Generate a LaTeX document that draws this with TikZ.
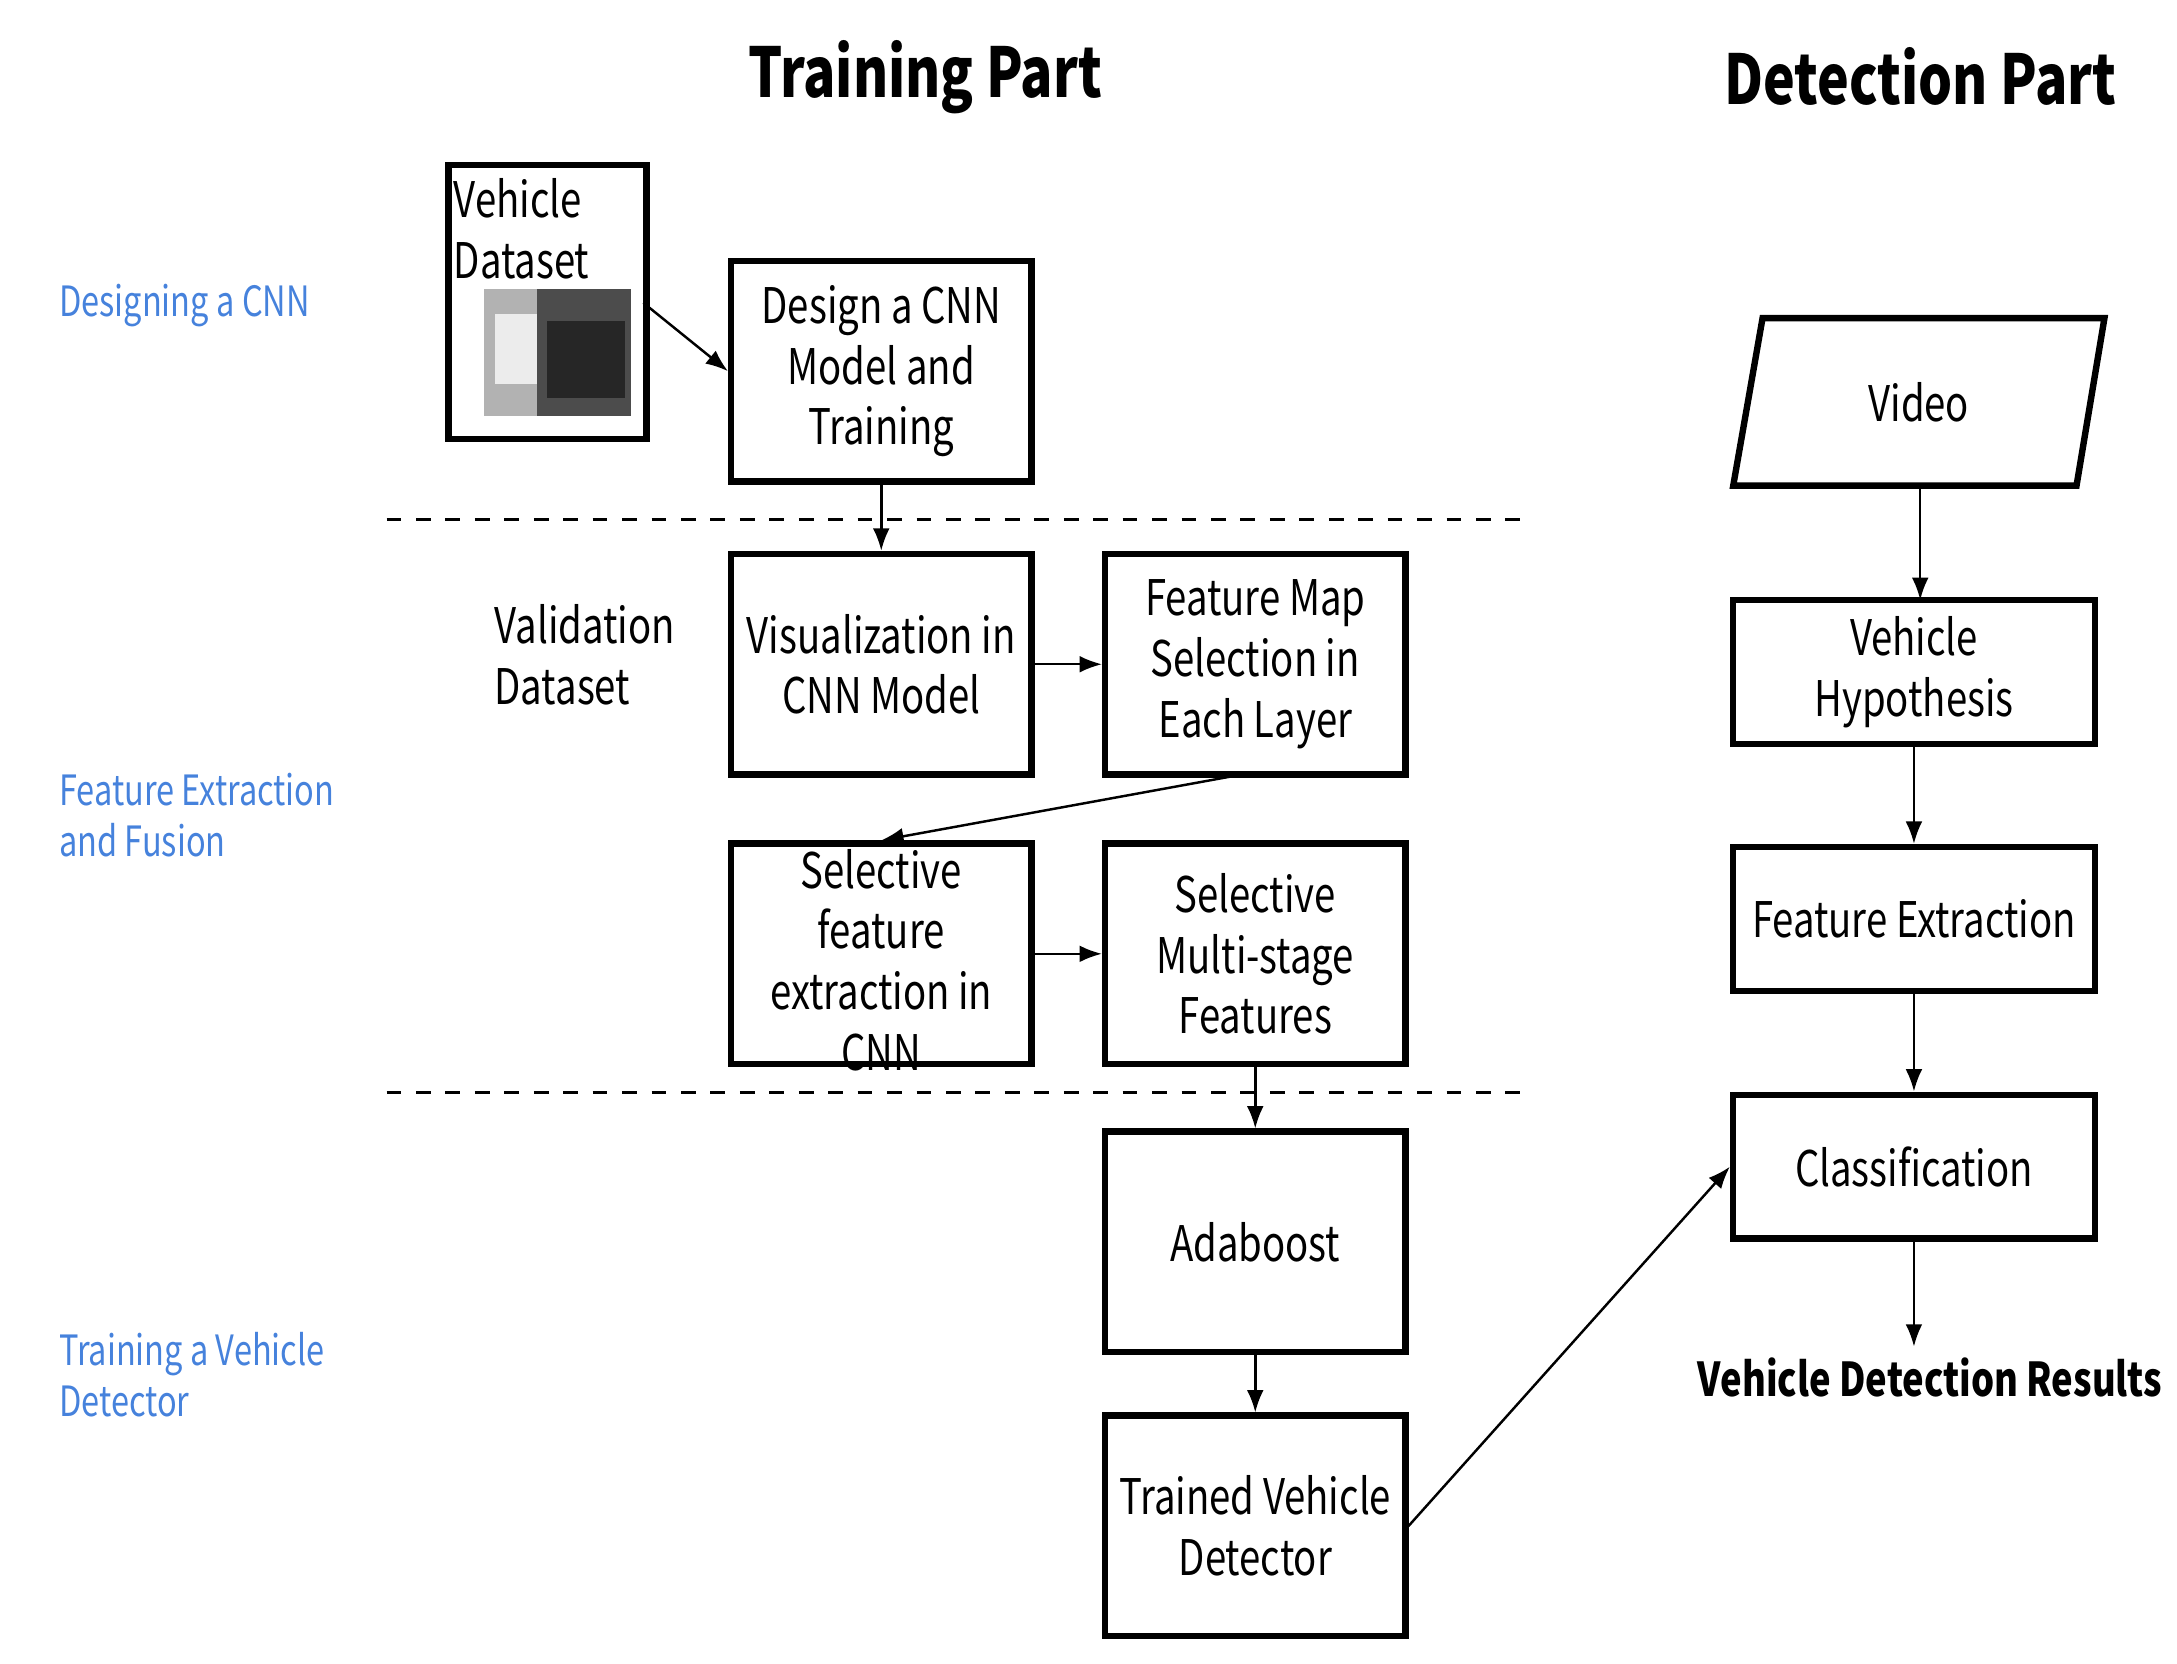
\documentclass[tikz,border=0pt]{standalone}
\usepackage{fontspec}
\setmainfont{Noto Sans CJK KR}[FakeStretch=0.78]
\usetikzlibrary{arrows.meta}
\definecolor{lblue}{RGB}{70,130,220}
\begin{document}
\begin{tikzpicture}[x=0.01cm,y=-0.01cm,
  box/.style={draw,line width=1.3pt,inner sep=0pt,align=center,font=\fontsize{10}{12.4}\selectfont},
  tb/.style={box,minimum width=2.15cm,minimum height=1.58cm},
  db/.style={box,minimum width=2.59cm,minimum height=1.03cm},
  arr/.style={-{Latex[length=1.6mm,width=1.2mm]},line width=0.5pt},
  side/.style={text=lblue,align=left,anchor=west,font=\fontsize{8.5}{10.5}\selectfont},
  ttl/.style={font=\fontsize{14}{17}\selectfont\bfseries}]
\useasboundingbox (0,0) rectangle (1560,1192);
% titles
\node[ttl] (t1) at (663,55) {Training Part};
\node[ttl] (t2) at (1376,55) {Detection Part};
% side labels
\node[side] (l1) at (30,219) {Designing a CNN};
\node[side] (l2) at (30,584) {Feature Extraction\\and Fusion};
\node[side] (l3) at (30,985) {Training a Vehicle\\Detector};
\node[align=left,anchor=west,font=\fontsize{10}{12.4}\selectfont] (val) at (342,469) {Validation\\Dataset};
% dashed separators
\draw[dashed,line width=0.6pt] (277,372) -- (1098,372);
\draw[dashed,line width=0.6pt] (277,783) -- (1098,783);
% vehicle dataset
\node[box,minimum width=1.42cm,minimum height=1.96cm,anchor=north west] (ds) at (319,116) {};
\node[anchor=north west,align=left,inner sep=1pt,font=\fontsize{10}{12.4}\selectfont] (dst) at (321,124) {Vehicle\\Dataset};
\fill[gray!60] (347,207) rectangle (390,298);
\fill[black!70] (385,207) rectangle (452,298);
\fill[white!85!gray] (355,225) rectangle (385,275);
\fill[black!85] (392,230) rectangle (448,285);
% training boxes
\node[tb] (design) at (631.5,266) {Design a CNN\\Model and\\Training};
\node[tb] (vis) at (631.5,476) {Visualization in\\CNN Model};
\node[tb] (fmap) at (899.5,476) {Feature Map\\Selection in\\Each Layer};
\node[tb] (sel) at (631.5,683.5) {};
\node[align=center,font=\fontsize{10}{12.4}\selectfont] (selt) at (631.5,688) {Selective\\feature\\extraction in\\CNN};
\node[tb] (multi) at (899.5,683.5) {Selective\\Multi-stage\\Features};
\node[tb] (ada) at (899.5,890) {Adaboost};
\node[tb] (tvd) at (899.5,1093.5) {Trained Vehicle\\Detector};
% detection boxes
\node[db] (hyp) at (1371.5,481.5) {Vehicle\\Hypothesis};
\node[db] (fe) at (1371.5,658.5) {Feature Extraction};
\node[db] (cls) at (1371.5,836) {Classification};
\draw[line width=1.3pt] (1263,228) -- (1508,228) -- (1488,348) -- (1242,348) -- cycle;
\node[font=\fontsize{10}{12.4}\selectfont] (video) at (1375,288) {Video};
\coordinate (vb) at (1376,348);
\coordinate (hb) at (1376,430);
\coordinate (re) at (1371.5,965);
\coordinate (fs) at (890,555);
\coordinate (dsr) at (461,217);
\node[font=\fontsize{9.5}{12}\selectfont\bfseries] (res) at (1383,987) {Vehicle Detection Results};
% arrows
\draw[arr] (dsr) -- (design.west);
\draw[arr] (design.south) -- (vis.north);
\draw[arr] (vis.east) -- (fmap.west);
\draw[arr] (fs) -- (sel.north);
\draw[arr] (sel.east) -- (multi.west);
\draw[arr] (multi.south) -- (ada.north);
\draw[arr] (ada.south) -- (tvd.north);
\draw[arr] (tvd.east) -- (cls.west);
\draw[arr] (vb) -- (hb);
\draw[arr] (hyp.south) -- (fe.north);
\draw[arr] (fe.south) -- (cls.north);
\draw[arr] (cls.south) -- (re);
\end{tikzpicture}
\end{document}
